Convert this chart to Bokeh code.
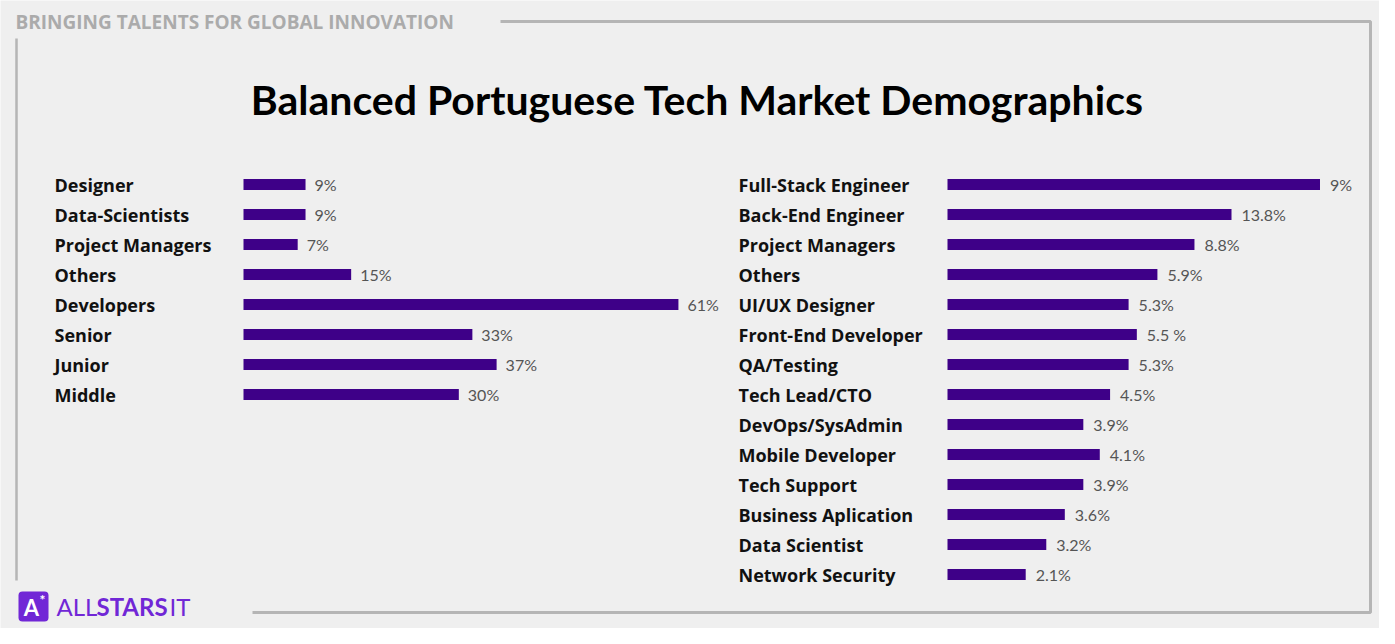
from bokeh.plotting import figure
from bokeh.models import Range1d, BoxAnnotation
from bokeh.core.properties import value
from bokeh.embed import file_html
from bokeh.resources import INLINE

# ---------------- data ----------------
left_categories = ["Designer", "Data-Scientists", "Project Managers", "Others",
                   "Developers", "Senior", "Junior", "Middle"]
left_values = [8.7, 8.7, 7.6, 15.1, 61.0, 32.1, 35.5, 30.2]   # bar lengths as drawn
left_labels = ["9%", "9%", "7%", "15%", "61%", "33%", "37%", "30%"]

right_categories = ["Full-Stack Engineer", "Back-End Engineer", "Project Managers", "Others",
                    "UI/UX Designer", "Front-End Developer", "QA/Testing", "Tech Lead/CTO",
                    "DevOps/SysAdmin", "Mobile Developer", "Tech Support",
                    "Business Aplication", "Data Scientist", "Network Security"]
right_values = [18.1, 13.8, 12.0, 10.2, 8.8, 9.2, 8.8, 7.9, 6.6, 7.4, 6.6, 5.7, 4.8, 3.8]  # bar lengths as drawn
right_labels = ["9%", "13.8%", "8.8%", "5.9%", "5.3%", "5.5 %", "5.3%", "4.5%",
                "3.9%", "4.1%", "3.9%", "3.6%", "3.2%", "2.1%"]

title_text = "Balanced Portuguese Tech Market Demographics"
subtitle_text = "BRINGING TALENTS FOR GLOBAL INNOVATION"

# ---------------- style ----------------
BG = "#efefef"
BAR = "#3e0088"
FRAME = "#b5b5b5"
PURPLE = "#7127d6"
LABEL_FONT = "Open Sans"
TITLE_FONT = "Lato"
VALUE_FONT = "Lato"

W, H = 1379, 628
ROW_PX = 30.0
ROW0_Y = 184.0

p = figure(width=W, height=H, output_backend="svg", toolbar_location=None,
           x_range=Range1d(0, W),
           y_range=Range1d((H - ROW0_Y) / ROW_PX, (0 - ROW0_Y) / ROW_PX),
           min_border=0)
p.background_fill_color = BG
p.border_fill_color = BG
p.outline_line_color = None
p.axis.visible = False
p.grid.visible = False

# pixel-like coordinate range for decorations
p.extra_y_ranges = {"page": Range1d(H, 0)}

# scales for the two bar charts
lx0, lscale = 243.0, 7.13
rx0, rscale = 947.0, 20.58
ls = -lx0 / lscale
rs = -rx0 / rscale
p.extra_x_ranges = {
    "left": Range1d(ls, ls + W / lscale),
    "right": Range1d(rs, rs + W / rscale),
}

# ---------------- header ----------------
p.text(x=[15], y=[21], text=[subtitle_text], y_range_name="page",
       text_font=value(LABEL_FONT), text_font_style="bold", text_font_size="19px",
       text_color="#ababab", text_baseline="middle", text_align="left")
p.text(x=[697], y=[99], text=[title_text], y_range_name="page",
       text_font=value(TITLE_FONT), text_font_style="bold", text_font_size="41px",
       text_color="#000000", text_baseline="middle", text_align="center")

# ---------------- frame ----------------
p.line(x=[500, 1370, 1370, 252], y=[21, 21, 612, 612], y_range_name="page",
       line_color=FRAME, line_width=3)
p.line(x=[16, 16], y=[38, 580], y_range_name="page", line_color=FRAME, line_width=2.5)

# ---------------- left chart ----------------
lrows = list(range(len(left_categories)))
p.hbar(y=lrows, left=0, right=left_values, height=11 / ROW_PX, x_range_name="left",
       fill_color=BAR, line_color=None)
p.text(x=[54] * len(lrows), y=lrows, text=left_categories,
       text_font=value(LABEL_FONT), text_font_style="bold", text_font_size="18px",
       text_color="#111111", text_baseline="middle", text_align="left")
p.text(x=left_values, y=lrows, text=left_labels, x_range_name="left", x_offset=9,
       text_font=value(VALUE_FONT), text_font_size="16px",
       text_color="#555555", text_baseline="middle", text_align="left")

# ---------------- right chart ----------------
rrows = list(range(len(right_categories)))
p.hbar(y=rrows, left=0, right=right_values, height=11 / ROW_PX, x_range_name="right",
       fill_color=BAR, line_color=None)
p.text(x=[738] * len(rrows), y=rrows, text=right_categories,
       text_font=value(LABEL_FONT), text_font_style="bold", text_font_size="18px",
       text_color="#111111", text_baseline="middle", text_align="left")
p.text(x=right_values, y=rrows, text=right_labels, x_range_name="right", x_offset=10,
       text_font=value(VALUE_FONT), text_font_size="16px",
       text_color="#555555", text_baseline="middle", text_align="left")

# ---------------- logo ----------------
p.add_layout(BoxAnnotation(left=18, right=48, top=591, bottom=621, y_range_name="page",
                           fill_color=PURPLE, fill_alpha=1.0, line_color=None,
                           border_radius=4, level="underlay"))
p.text(x=[31], y=[607], text=["A"], y_range_name="page",
       text_font=value(TITLE_FONT), text_font_style="bold", text_font_size="22px",
       text_color="white", text_baseline="middle", text_align="center")
p.text(x=[42], y=[599], text=["*"], y_range_name="page",
       text_font=value(TITLE_FONT), text_font_style="bold", text_font_size="14px",
       text_color="white", text_baseline="middle", text_align="center")
p.text(x=[56], y=[606], text=["ALL"], y_range_name="page",
       text_font=value(TITLE_FONT), text_font_size="24px",
       text_color=PURPLE, text_baseline="middle", text_align="left")
p.text(x=[96], y=[606], text=["STARS"], y_range_name="page",
       text_font=value(TITLE_FONT), text_font_style="bold", text_font_size="24px",
       text_color=PURPLE, text_baseline="middle", text_align="left")
p.text(x=[169], y=[606], text=["IT"], y_range_name="page",
       text_font=value(TITLE_FONT), text_font_size="24px",
       text_color=PURPLE, text_baseline="middle", text_align="left")

open("out.html", "w").write(file_html(p, INLINE))
